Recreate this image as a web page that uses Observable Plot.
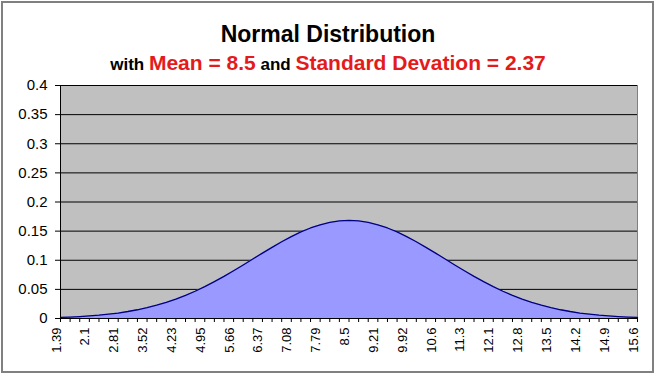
<!DOCTYPE html>
<html><head><meta charset="utf-8">
<script src="https://cdn.jsdelivr.net/npm/d3@7"></script>
<script src="https://cdn.jsdelivr.net/npm/@observablehq/plot@0.6"></script>
<style>
body{margin:0;background:#fff;}
#wrap{position:relative;width:656px;height:380px;overflow:hidden;font-family:"Liberation Sans",Arial,sans-serif;background:#fff;}
#frame{position:absolute;left:1px;top:1px;width:649px;height:368px;border:2px solid #808080;}
#title{position:absolute;left:0;top:21px;width:656px;text-align:center;font-weight:bold;font-size:23px;line-height:26px;color:#000;}
#sub{position:absolute;left:0;top:51px;width:656px;text-align:center;font-weight:bold;font-size:17px;line-height:24px;color:#000;}
.red{color:#e41b1b;font-size:21px;}
#chart{position:absolute;left:0;top:0;}
</style>
</head><body>
<div id="wrap">
  <div id="frame"></div>
  <div id="title">Normal Distribution</div>
  <div id="sub">with <span class="red">Mean = 8.5</span> and <span class="red">Standard Devation = 2.37</span></div>
  <div id="chart"></div>
</div>
<script>
const categories = ["1.39","1.63","1.86","2.1","2.34","2.58","2.81","3.05","3.29","3.52","3.76","4","4.23","4.47","4.71","4.95","5.18","5.42","5.66","5.89","6.13","6.37","6.6","6.84","7.08","7.32","7.55","7.79","8.03","8.26","8.5","8.74","8.97","9.21","9.45","9.69","9.92","10.2","10.4","10.6","10.9","11.1","11.3","11.6","11.8","12.1","12.3","12.5","12.8","13","13.2","13.5","13.7","14","14.2","14.4","14.7","14.9","15.1","15.4","15.6"];
const density = [0.0019,0.0025,0.0033,0.0044,0.0057,0.0074,0.0094,0.0120,0.0150,0.0186,0.0228,0.0277,0.0333,0.0397,0.0468,0.0546,0.0632,0.0723,0.0819,0.0919,0.1021,0.1123,0.1222,0.1318,0.1406,0.1486,0.1554,0.1609,0.1650,0.1675,0.1683,0.1675,0.1650,0.1609,0.1554,0.1486,0.1406,0.1318,0.1222,0.1123,0.1021,0.0919,0.0819,0.0723,0.0632,0.0546,0.0468,0.0397,0.0333,0.0277,0.0228,0.0186,0.0150,0.0120,0.0094,0.0074,0.0057,0.0044,0.0033,0.0025,0.0019];
const xTickLabels = ["1.39","2.1","2.81","3.52","4.23","4.95","5.66","6.37","7.08","7.79","8.5","9.21","9.92","10.6","11.3","12.1","12.8","13.5","14.2","14.9","15.6"];
const yTicks = [0,0.05,0.1,0.15,0.2,0.25,0.3,0.35,0.4];
const yTickLabels = ["0","0.05","0.1","0.15","0.2","0.25","0.3","0.35","0.4"];

const data = categories.map((c,i)=>({c, v: density[i]}));

const chart = Plot.plot({
  width: 656, height: 380,
  marginTop: 85, marginBottom: 62, marginLeft: 60, marginRight: 19,
  style: {fontFamily: '"Liberation Sans", Arial, sans-serif', fontSize: "13px", color: "#000", background: "transparent", overflow: "visible"},
  x: {type: "point", domain: categories, padding: 0, axis: null},
  y: {domain: [0, 0.4], axis: null},
  marks: [
    Plot.frame({fill: "#c0c0c0", stroke: "#808080"}),
    Plot.gridY(yTicks, {stroke: "#000", strokeOpacity: 1}),
    Plot.areaY(data, {x: "c", y: "v", fill: "#9999ff"}),
    Plot.lineY(data, {x: "c", y: "v", stroke: "#000080", strokeWidth: 1.3}),
    Plot.ruleX([categories[0]], {stroke: "#000"}),
    Plot.ruleY([0], {stroke: "#000"}),
    Plot.axisY(yTicks, {tickSize: 5, tickFormat: () => "", label: null}),
    Plot.axisX(categories, {tickSize: 4, tickFormat: () => "", label: null}),
    Plot.text(yTicks, {y: (d) => d, text: (d, i) => yTickLabels[i], frameAnchor: "left", textAnchor: "end", dx: -13, fontSize: 15, fill: "#000"}),
    Plot.text(xTickLabels, {x: (d) => d, text: (d) => d, frameAnchor: "bottom", rotate: -90, textAnchor: "end", dy: 9, fontSize: 13, fill: "#000"})
  ]
});
document.getElementById("chart").appendChild(chart);
</script>
</body></html>
